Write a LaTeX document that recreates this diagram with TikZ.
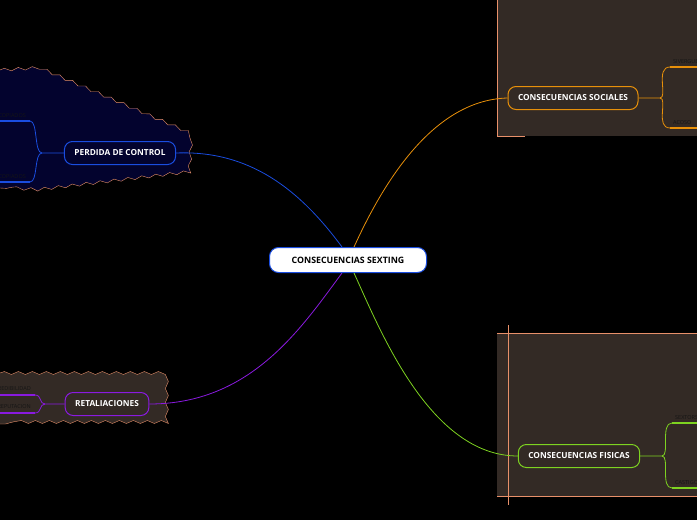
\documentclass[tikz,border=0pt]{standalone}
\usepackage{fontspec}
\setmainfont{Open Sans}
\usetikzlibrary{decorations.pathmorphing}
\definecolor{bg}{HTML}{332A25}
\definecolor{navy}{HTML}{03032E}
\definecolor{peach}{HTML}{E8906A}
\definecolor{cblue}{HTML}{1A4DE0}
\definecolor{corange}{HTML}{E8900A}
\definecolor{cgreen}{HTML}{7ED321}
\definecolor{cpurple}{HTML}{8A1AE0}
\definecolor{lbl}{HTML}{151515}
\begin{document}
\begin{tikzpicture}[x=1pt,y=-1pt,
  topic/.style={draw=#1,line width=1pt,rounded corners=8pt,fill=bg,text=white,font=\bfseries\fontsize{8.3}{10}\selectfont,minimum height=23pt,inner xsep=10pt},
  leaf/.style={font=\fontsize{5.5}{6}\selectfont,text=lbl,inner sep=1pt,anchor=south west},
  wav/.style={draw=peach,decorate,decoration={snake,amplitude=1.5pt,segment length=14pt}}]
\fill[black] (0,0) rectangle (697,520);
\useasboundingbox (0,0) rectangle (697,520);
\fill[bg] (497,0) rectangle (697,136);
\draw[peach,line width=0.6pt] (497,0) -- (497,136) -- (525,136);
\fill[bg] (497,333) rectangle (697,496);
\draw[peach,line width=0.6pt] (508,325) -- (508,505) (497,333) -- (697,333) (497,496) -- (697,496);
\path[fill=navy,wav] (0,70) -- (35,68) -- (185,133) -- (190,140) -- (188,172) -- (35,190) -- (0,188);
\path[fill=bg,wav] (0,373) -- (160,373) -- (160,424) -- (0,424);
\node[draw=cblue,line width=1pt,rounded corners=9pt,fill=white,text=black,font=\bfseries\fontsize{8.8}{10}\selectfont,minimum height=25pt,minimum width=157pt] (c) at (348,260) {CONSECUENCIAS SEXTING};
\node[topic=corange] (s) at (573,98) {CONSECUENCIAS SOCIALES};
\node[topic=cblue,fill=navy] (p) at (120,153) {PERDIDA DE CONTROL};
\node[topic=cgreen] (f) at (579,456) {CONSECUENCIAS FISICAS};
\node[topic=cpurple] (r) at (107,404) {RETALIACIONES};
\draw[corange,line width=0.8pt] (c.north) ++(6,0) .. controls (380,190) and (430,100) .. (s.west);
\draw[cblue,line width=0.8pt] (c.north) ++(-6,0) .. controls (300,190) and (250,150) .. (p.east);
\draw[cgreen,line width=0.8pt] (c.south) ++(6,0) .. controls (380,330) and (430,456) .. (f.west);
\draw[cpurple,line width=0.8pt] (c.south) ++(-6,0) .. controls (300,330) and (250,404) .. (r.east);
\coordinate (s1) at (697,67); \coordinate (s2) at (697,128);
\coordinate (sj) at (660,98); \coordinate (fj) at (662,456);
\coordinate (pj) at (42,153); \coordinate (rj) at (45,404);
\draw[corange,line width=0.8pt] (s.east) -- (sj) .. controls ++(8,0) and (655,67) .. (670,67);
\draw[corange,line width=0.8pt] (sj) .. controls ++(8,0) and (655,128) .. (670,128);
\draw[corange,line width=1.6pt] (670,67) -- (s1) (670,128) -- (s2);
\node[leaf] at (672,65) {SIVERGUENZA};
\node[leaf] at (672,126) {ACOSO};
\coordinate (f1) at (697,423); \coordinate (f2) at (697,488);
\draw[cgreen,line width=0.8pt] (f.east) -- (fj) .. controls ++(8,0) and (660,423) .. (672,423);
\draw[cgreen,line width=0.8pt] (fj) .. controls ++(8,0) and (660,488) .. (672,488);
\draw[cgreen,line width=1.6pt] (672,423) -- (f1) (672,488) -- (f2);
\node[leaf] at (674,421) {SEXTORSION};
\node[leaf] at (674,486) {CASTIGOS};
\coordinate (p1) at (0,121); \coordinate (p2) at (0,182);
\draw[cblue,line width=0.8pt] (p.west) -- (pj) .. controls ++(-8,0) and (38,121) .. (30,121);
\draw[cblue,line width=0.8pt] (pj) .. controls ++(-8,0) and (38,182) .. (30,182);
\draw[cblue,line width=1.6pt] (30,121) -- (p1) (30,182) -- (p2);
\node[leaf,anchor=south east] at (27,119) {COPIADOS};
\node[leaf,anchor=south east] at (27,180) {COPIADOS};
\coordinate (r1) at (0,395); \coordinate (r2) at (0,413);
\draw[cpurple,line width=0.8pt] (r.west) -- (rj) .. controls ++(-6,0) and (42,395) .. (35,395);
\draw[cpurple,line width=0.8pt] (rj) .. controls ++(-6,0) and (42,413) .. (35,413);
\draw[cpurple,line width=1.6pt] (35,395) -- (r1) (35,413) -- (r2);
\node[leaf,anchor=south east] at (32,392) {CREDIBILIDAD};
\node[leaf,anchor=south east] at (32,410) {REPUTACION};
\end{tikzpicture}
\end{document}
